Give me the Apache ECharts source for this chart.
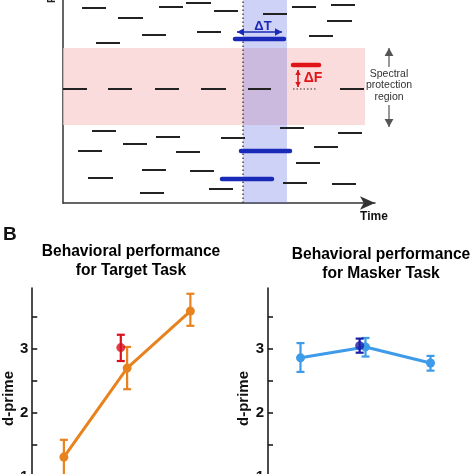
<!DOCTYPE html>
<html>
<head>
<meta charset="utf-8">
<script src="https://cdn.jsdelivr.net/npm/echarts@6/dist/echarts.min.js"></script>
<style>
  html, body { margin: 0; padding: 0; background: #fff; overflow: hidden; }
  #chart { width: 474px; height: 540px; }
</style>
</head>
<body>
<div id="chart"></div>
<script>
// ---- panel A: schematic, time (t) / frequency (f) units ----
// [tStart, tEnd, f]
const maskerTones = [
  [19, 43, 195], [55, 80, 185], [96, 120, 196], [123, 148, 200], [151, 175, 192],
  [79, 103, 168], [134, 158, 171], [33, 57, 160], [200, 224, 189], [229, 253, 196],
  [268, 292, 198], [264, 289, 182], [246, 270, 167],
  [29, 53, 72], [93, 117, 66], [60, 84, 59], [15, 39, 52], [113, 137, 51],
  [158, 182, 65], [79, 103, 33], [127, 151, 32], [25, 50, 25], [77, 101, 10],
  [146, 170, 14], [217, 241, 75], [275, 299, 70], [251, 275, 56], [233, 257, 40],
  [220, 244, 20], [269, 293, 19]
];
const referenceTones = [
  [0, 24, 114], [45, 69, 114], [92, 116, 114], [138, 163, 114], [185, 208, 114], [277, 301, 114]
];
const windowTones = [[172, 221, 164], [178, 227, 52], [159, 209, 24]];
const targetTone = [[230, 256, 138]];
const targetRefLevel = [[230, 254, 114]];
// [tStart, tEnd, fLow, fHigh]
const protectionRegion = [[0, 302, 78, 155]];
const integrationWindow = [[180, 224, 0, 203]];
const windowOnset = [[180, 180, 0, 203]];
// arrows [t1, f1, t2, f2, double]
const deltaArrows = [[174, 171, 219, 171, 1]];
const deltaFArrow = [[235, 116, 235, 133, 1]];
const regionArrows = [[326, 136, 326, 155, 0], [326, 98, 326, 76, 0]];

// ---- panel B: behavioural performance ----
const conditions = [1, 2, 3];
const targetDprime = [1.31, 2.70, 3.59];
const targetLow = [0.95, 2.37, 3.36];
const targetHigh = [1.58, 3.03, 3.86];
const targetAlone = [1.9, 3.02, 2.81, 3.22];   // x, d', low, high
const maskerDprime = [2.86, 3.03, 2.78];
const maskerLow = [2.64, 2.88, 2.66];
const maskerHigh = [3.09, 3.17, 2.89];
const maskerAlone = [1.91, 3.05, 2.94, 3.16];
const dprimeLabels = [1, 2, 3];
const dprimeTicks = [1, 1.5, 2, 2.5, 3, 3.5];

const FONT = 'Liberation Sans, Arial, sans-serif';

function segSeries(data, color, width, opts) {
  opts = opts || {};
  return {
    type: 'custom', xAxisIndex: 0, yAxisIndex: 0, data: data, z: opts.z || 3,
    encode: { x: [0, 1], y: 2 }, silent: true,
    renderItem: function (params, api) {
      const a = api.coord([api.value(0), api.value(2)]);
      const b = api.coord([api.value(1), api.value(2)]);
      return {
        type: 'line',
        shape: { x1: a[0], y1: a[1], x2: b[0], y2: b[1] },
        style: { stroke: color, lineWidth: width, lineCap: opts.cap || 'butt', lineDash: opts.dash || null }
      };
    }
  };
}

function vSegSeries(data, color, width, dash) {
  return {
    type: 'custom', xAxisIndex: 0, yAxisIndex: 0, data: data, z: 4, silent: true,
    encode: { x: [0, 1], y: [2, 3] },
    renderItem: function (params, api) {
      const a = api.coord([api.value(0), api.value(2)]);
      const b = api.coord([api.value(1), api.value(3)]);
      return {
        type: 'line',
        shape: { x1: a[0], y1: a[1], x2: b[0], y2: b[1] },
        style: { stroke: color, lineWidth: width, lineDash: dash }
      };
    }
  };
}

function bandSeries(data, color, z) {
  return {
    type: 'custom', xAxisIndex: 0, yAxisIndex: 0, data: data, z: z, silent: true,
    encode: { x: [0, 1], y: [2, 3] },
    renderItem: function (params, api) {
      const a = api.coord([api.value(0), api.value(3)]);
      const b = api.coord([api.value(1), api.value(2)]);
      return { type: 'rect', shape: { x: a[0], y: a[1], width: b[0] - a[0], height: b[1] - a[1] }, style: { fill: color } };
    }
  };
}

function head(p, q, size) {
  const dx = q[0] - p[0], dy = q[1] - p[1];
  const len = Math.sqrt(dx * dx + dy * dy);
  const ux = dx / len, uy = dy / len;
  const bx = q[0] - ux * size, by = q[1] - uy * size;
  const w = size * 0.55;
  return [[q[0], q[1]], [bx - uy * w, by + ux * w], [bx + uy * w, by - ux * w]];
}

function arrowSeries(data, color, width, size) {
  return {
    type: 'custom', xAxisIndex: 0, yAxisIndex: 0, data: data, z: 6, silent: true, clip: false,
    encode: { x: [0, 2], y: [1, 3] },
    renderItem: function (params, api) {
      const p = api.coord([api.value(0), api.value(1)]);
      const q = api.coord([api.value(2), api.value(3)]);
      const kids = [
        { type: 'line', shape: { x1: p[0], y1: p[1], x2: q[0], y2: q[1] }, style: { stroke: color, lineWidth: width } },
        { type: 'polygon', shape: { points: head(p, q, size) }, style: { fill: color } }
      ];
      if (api.value(4)) kids.push({ type: 'polygon', shape: { points: head(q, p, size) }, style: { fill: color } });
      return { type: 'group', children: kids };
    }
  };
}

function errSeries(x, low, high, color, gi, z) {
  return {
    type: 'custom', xAxisIndex: gi, yAxisIndex: gi, z: z, silent: true,
    data: x.map(function (v, i) { return [v, low[i], high[i]]; }),
    encode: { x: 0, y: [1, 2] },
    renderItem: function (params, api) {
      const t = api.coord([api.value(0), api.value(2)]);
      const b = api.coord([api.value(0), api.value(1)]);
      const st = { stroke: color, lineWidth: 2.2 };
      return {
        type: 'group', children: [
          { type: 'line', shape: { x1: t[0], y1: t[1], x2: b[0], y2: b[1] }, style: st },
          { type: 'line', shape: { x1: t[0] - 4, y1: t[1], x2: t[0] + 4, y2: t[1] }, style: st },
          { type: 'line', shape: { x1: b[0] - 4, y1: b[1], x2: b[0] + 4, y2: b[1] }, style: st }
        ]
      };
    }
  };
}

function dprimeAxis(gi) {
  return {
    gridIndex: gi, type: 'value', min: 0.5, max: 3.95,
    name: 'd-prime', nameLocation: 'middle', nameGap: 13,
    nameTextStyle: { fontFamily: FONT, fontWeight: 'bold', fontSize: 15, color: '#111' },
    axisLine: { show: true, lineStyle: { color: '#111', width: 1.5 } },
    axisTick: { show: true, inside: true, length: 5, customValues: dprimeTicks, lineStyle: { color: '#111', width: 1.5 } },
    axisLabel: { customValues: dprimeLabels, margin: 4, fontFamily: FONT, fontWeight: 'bold', fontSize: 15, color: '#111' },
    splitLine: { show: false }
  };
}

const pts = function (xs, ys) { return xs.map(function (v, i) { return [v, ys[i]]; }); };

const titleRich = {
  b: { fontFamily: FONT, fontWeight: 'bold', fontSize: 15.6, color: '#111', lineHeight: 19 },
  r: { fontFamily: FONT, fontWeight: 'bold', fontSize: 15.6, color: '#c8102e', lineHeight: 19 },
  m: { fontFamily: FONT, fontWeight: 'bold', fontSize: 15.6, color: '#1c2590', lineHeight: 19 }
};

const chart = echarts.init(document.getElementById('chart'), null, { renderer: 'canvas' });
chart.setOption({
  animation: false,
  backgroundColor: '#fff',
  grid: [
    { left: 63, top: 0, width: 312, height: 203 },
    { left: 27, top: 288, width: 195, height: 221 },
    { left: 268, top: 288, width: 195, height: 221 }
  ],
  xAxis: [
    {
      gridIndex: 0, type: 'value', min: 0, max: 312,
      axisLine: { show: true, symbol: ['none', 'arrow'], symbolSize: [10, 15], lineStyle: { color: '#333', width: 1.5 } },
      axisTick: { show: false }, axisLabel: { show: false }, splitLine: { show: false }
    },
    { gridIndex: 1, type: 'value', min: 0.5, max: 3.5, show: false },
    { gridIndex: 2, type: 'value', min: 0.5, max: 3.5, show: false }
  ],
  yAxis: [
    {
      gridIndex: 0, type: 'value', min: 0, max: 203,
      axisLine: { show: true, lineStyle: { color: '#333', width: 1.5 } },
      axisTick: { show: false }, axisLabel: { show: false }, splitLine: { show: false }
    },
    dprimeAxis(1),
    dprimeAxis(2)
  ],
  series: [
    bandSeries(protectionRegion, 'rgba(250,205,205,0.7)', 1),
    bandSeries(integrationWindow, 'rgba(95,105,230,0.3)', 2),
    segSeries(maskerTones, '#222', 2),
    segSeries(referenceTones, '#222', 2),
    segSeries(targetRefLevel, '#333', 1.2, { dash: [1.5, 2] }),
    vSegSeries(windowOnset, '#333', 1.3, [1.5, 2.5]),
    segSeries(windowTones, '#1a2ab8', 4.5, { cap: 'round', z: 5 }),
    segSeries(targetTone, '#e01418', 4.5, { cap: 'round', z: 5 }),
    arrowSeries(deltaArrows, '#1a2ab8', 1.6, 7),
    arrowSeries(deltaFArrow, '#e01418', 1.6, 5),
    arrowSeries(regionArrows, '#555', 1.2, 8),

    errSeries(conditions, targetLow, targetHigh, '#e8821e', 1, 3),
    {
      type: 'line', xAxisIndex: 1, yAxisIndex: 1, data: pts(conditions, targetDprime), z: 4,
      symbol: 'circle', symbolSize: 9, itemStyle: { color: '#e8821e' },
      lineStyle: { color: '#e8821e', width: 3 }, silent: true
    },
    errSeries([targetAlone[0]], [targetAlone[2]], [targetAlone[3]], '#d81020', 1, 5),
    {
      type: 'scatter', xAxisIndex: 1, yAxisIndex: 1, data: [[targetAlone[0], targetAlone[1]]], z: 6,
      symbolSize: 9, itemStyle: { color: '#d81020' }, silent: true
    },

    errSeries(conditions, maskerLow, maskerHigh, '#3d9be9', 2, 3),
    {
      type: 'line', xAxisIndex: 2, yAxisIndex: 2, data: pts(conditions, maskerDprime), z: 4,
      symbol: 'circle', symbolSize: 9, itemStyle: { color: '#3d9be9' },
      lineStyle: { color: '#3d9be9', width: 3 }, silent: true
    },
    errSeries([maskerAlone[0]], [maskerAlone[2]], [maskerAlone[3]], '#1a1fa8', 2, 5),
    {
      type: 'scatter', xAxisIndex: 2, yAxisIndex: 2, data: [[maskerAlone[0], maskerAlone[1]]], z: 6,
      symbolSize: 9, itemStyle: { color: '#1a1fa8' }, silent: true
    }
  ],
  graphic: [
    { type: 'text', x: 52, y: 3, rotation: Math.PI / 2, style: { text: 'Frequency', fontFamily: FONT, fontWeight: 'bold', fontSize: 11, fill: '#222', align: 'left', verticalAlign: 'middle' } },
    { type: 'text', x: 263, y: 26, z: 10, style: { text: 'ΔT', fontFamily: FONT, fontWeight: 'bold', fontSize: 13, fill: '#1a2ab8', align: 'center', verticalAlign: 'middle' } },
    { type: 'text', x: 313, y: 78, z: 10, style: { text: 'ΔF', fontFamily: FONT, fontWeight: 'bold', fontSize: 14, fill: '#e01418', align: 'center', verticalAlign: 'middle' } },
    { type: 'text', x: 389, y: 68, style: { text: 'Spectral\nprotection\nregion', fontFamily: FONT, fontSize: 10.5, lineHeight: 11.5, fill: '#333', align: 'center', verticalAlign: 'top' } },
    { type: 'text', x: 374, y: 217, style: { text: 'Time', fontFamily: FONT, fontWeight: 'bold', fontSize: 12, fill: '#111', align: 'center', verticalAlign: 'middle' } },
    { type: 'text', x: 3, y: 225, style: { text: 'B', fontFamily: FONT, fontWeight: 'bold', fontSize: 19, fill: '#111' } },
    { type: 'text', x: 131, y: 242, style: { text: '{b|Behavioral performance}\n{b|for }{r|Target Task}', rich: titleRich, align: 'center' } },
    { type: 'text', x: 381, y: 245, style: { text: '{b|Behavioral performance}\n{b|for }{m|Masker Task}', rich: titleRich, align: 'center' } }
  ]
});
</script>
</body>
</html>
